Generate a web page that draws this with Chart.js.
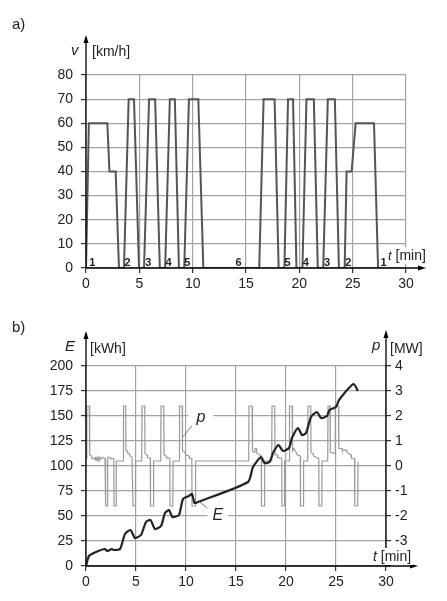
<!DOCTYPE html>
<html>
<head>
<meta charset="utf-8">
<script src="https://cdn.jsdelivr.net/npm/chart.js@4.4.1/dist/chart.umd.min.js"></script>
<style>
  body { margin: 0; background: #fff; }
  canvas { position: absolute; left: 0; }
  #speedChart { top: 0; }
  #energyChart { top: 290px; }
</style>
</head>
<body>
<canvas id="speedChart" width="447" height="290"></canvas>
<canvas id="energyChart" width="447" height="311"></canvas>
<script>
// a) speed profile, t [min] / v [km/h]
const tSpeed = [0, 0.27, 2.0, 2.2, 2.78, 3.09, 3.56, 4.0, 4.5, 4.97, 5.44, 5.91, 6.48, 6.92, 7.42, 7.86, 8.33, 8.71,
  9.21, 9.65, 10.53, 11.0, 16.24, 16.65, 17.68, 18.06, 18.6, 18.94, 19.41, 19.73, 20.29, 20.67, 21.36, 21.73,
  22.24, 22.67, 23.33, 23.71, 24.25, 24.43, 24.9, 25.28, 27.0, 27.38, 27.8];
const vSpeed = [0, 60, 60, 40, 40, 0, 0, 70, 70, 0, 0, 70, 70, 0, 0, 70, 70, 0,
  0, 70, 70, 0, 0, 70, 70, 0, 0, 70, 70, 0, 0, 70, 70, 0,
  0, 70, 70, 0, 0, 40, 40, 60, 60, 0, 0];

// station numbers shown along the time axis
const stopT = [0.6, 3.9, 5.85, 7.75, 9.5, 14.3, 18.9, 20.6, 22.6, 24.6, 27.9];
const stopLabels = ['1', '2', '3', '4', '5', '6', '5', '4', '3', '2', '1'];

// b) energy E [kWh]
const tEnergy = [0, 0.3, 1.0, 1.9, 2.1, 2.6, 2.75, 3.4, 3.9, 4.45, 4.9, 5.5, 6.0, 6.45, 6.9, 7.5, 7.9, 8.3, 8.65,
  9.3, 9.7, 10.3, 10.6, 10.85, 11.2, 16.2, 16.7, 17.5, 17.85, 18.35, 18.75, 19.25, 19.7, 20.3, 20.6, 21.2,
  21.6, 22.0, 22.5, 23.1, 23.5, 24.1, 24.35, 25.0, 25.3, 26.75, 27.2];
const eEnergy = [0, 10, 14, 17, 15, 17, 16, 17, 32, 36, 28, 31, 44, 46, 37, 40, 53, 56, 49,
  51, 67, 70, 72, 63, 64, 84, 99, 109, 103, 104, 114, 121, 115, 118, 128, 138,
  131, 133, 149, 154, 148, 150, 156, 159, 166, 182, 175];

// b) power p [MW]
const tPower = [0.05, 0.08, 0.33, 0.37, 0.55, 0.6, 0.8, 0.9, 1.0, 1.1, 1.2, 1.3, 1.4, 1.5, 1.7, 1.9, 1.95, 1.97, 2.15, 2.17,
  2.4, 2.45, 2.78, 2.8, 3.0, 3.03, 3.72, 3.75, 3.97, 4.0, 4.15, 4.2, 4.35, 4.4, 4.6, 4.68, 4.7, 4.92, 4.95,
  5.57, 5.6, 5.87, 5.9, 6.1, 6.15, 6.43, 6.45, 6.73, 6.76, 7.47, 7.5, 7.77, 7.8, 8.0, 8.05, 8.38, 8.4, 8.68, 8.71,
  9.32, 9.35, 9.62, 9.65, 9.9, 9.95, 10.3, 10.35, 10.58, 10.6, 10.93, 10.96, 16.27, 16.3, 16.62, 16.65, 16.85, 16.9,
  17.05, 17.1, 17.4, 17.53, 17.55, 17.83, 17.86, 18.57, 18.6, 18.87, 18.9, 19.1, 19.15, 19.58, 19.6, 19.83, 19.86,
  20.32, 20.35, 20.62, 20.65, 20.8, 21.0, 21.1, 21.43, 21.45, 21.73, 21.76, 22.17, 22.2, 22.47, 22.5, 22.7, 22.75,
  23.0, 23.28, 23.3, 23.58, 23.61, 24.17, 24.2, 24.4, 24.43, 24.9, 24.93, 25.25, 25.28, 25.6, 25.65, 25.9, 26.1,
  26.2, 26.5, 26.55, 26.85, 26.88, 27.17, 27.2];
const pPower = [0.3, 2.4, 2.4, 0.45, 0.4, 0.3, 0.32, 0.25, 0.35, 0.22, 0.35, 0.2, 0.35, 0.28, 0.35, 0.3, 0.3, -1.6, -1.6, 0.35,
  0.35, 0.3, 0.3, -1.6, -1.6, 0.2, 0.2, 2.4, 2.4, 0.6, 0.6, 0.5, 0.5, 0.4, 0.35, 0.35, -1.6, -1.6, 0.2,
  0.2, 2.4, 2.4, 0.5, 0.45, 0.35, 0.3, -1.6, -1.6, 0.2, 0.2, 2.4, 2.4, 0.45, 0.4, 0.35, 0.3, -1.6, -1.6, 0.2,
  0.2, 2.4, 2.4, 0.6, 0.55, 0.45, 0.4, 0.3, 0.3, -1.6, -1.6, 0.2, 0.2, 2.4, 2.4, 0.6, 0.55, 0.7,
  0.7, 0.5, 0.45, 0.4, -1.6, -1.6, 0.2, 0.2, 2.4, 2.4, 0.45, 0.45, 0.35, 0.3, -1.6, -1.6, 0.2,
  0.2, 2.4, 2.4, 0.6, 0.7, 0.55, 0.45, 0.4, -1.6, -1.6, 0.2, 0.2, 2.4, 2.4, 0.55, 0.5, 0.4,
  0.35, 0.3, -1.6, -1.6, 0.2, 0.2, 2.4, 2.4, 0.55, 0.5, 2.4, 2.4, 0.7, 0.7, 0.62, 0.65, 0.6,
  0.5, 0.45, 0.3, 0.3, -1.6, -1.6, 0.17];

const FONT = '"Liberation Sans", Arial, sans-serif';
const GRID = '#a3a3a3';

function pts(xs, ys) {
  return xs.map((x, i) => ({ x: x, y: ys[i] }));
}

function axisUp(ctx, x, yBottom, yTop) {
  ctx.beginPath();
  ctx.moveTo(x, yBottom);
  ctx.lineTo(x, yTop + 4);
  ctx.stroke();
  ctx.beginPath();
  ctx.moveTo(x, yTop);
  ctx.lineTo(x - 2.5, yTop + 8);
  ctx.lineTo(x + 2.5, yTop + 8);
  ctx.closePath();
  ctx.fill();
}

function axisRight(ctx, y, xLeft, xRight) {
  ctx.beginPath();
  ctx.moveTo(xLeft, y);
  ctx.lineTo(xRight - 4, y);
  ctx.stroke();
  ctx.beginPath();
  ctx.moveTo(xRight, y);
  ctx.lineTo(xRight - 8, y - 2.5);
  ctx.lineTo(xRight - 8, y + 2.5);
  ctx.closePath();
  ctx.fill();
}

// parts: [[text, font], ...] drawn one after another from x on baseline y
function text(ctx, parts, x, y, bg) {
  let w = 0;
  parts.forEach(p => { ctx.font = p[1]; w += ctx.measureText(p[0]).width; });
  if (bg) {
    ctx.fillStyle = '#fff';
    ctx.fillRect(x - bg, y - 13, w + 2 * bg, 17);
  }
  ctx.fillStyle = '#222';
  ctx.textAlign = 'left';
  ctx.textBaseline = 'alphabetic';
  parts.forEach(p => {
    ctx.font = p[1];
    ctx.fillText(p[0], x, y);
    x += ctx.measureText(p[0]).width;
  });
}

function xScale(fit) {
  return {
    type: 'linear', min: 0, max: 30,
    ticks: { stepSize: 5, color: '#222', font: { family: FONT, size: 14 }, padding: 3, maxRotation: 0 },
    grid: { color: GRID, lineWidth: 1.2, tickColor: '#333', tickLength: 5 },
    border: { display: false },
    afterFit: s => { s.height = fit; }
  };
}

function yScale(min, max, step, pos, fit) {
  return {
    type: 'linear', min: min, max: max, position: pos,
    ticks: { stepSize: step, color: '#222', font: { family: FONT, size: 14 }, padding: 8 },
    grid: { color: GRID, lineWidth: 1.2, tickColor: '#333', tickLength: 5 },
    border: { display: false },
    afterFit: s => { s.width = fit; }
  };
}

const speedDeco = {
  id: 'speedDeco',
  afterDraw(chart) {
    const ctx = chart.ctx, ca = chart.chartArea;
    const xs = chart.scales.x, ys = chart.scales.y;
    ctx.save();
    ctx.strokeStyle = '#000';
    ctx.fillStyle = '#000';
    ctx.lineWidth = 1.3;
    axisUp(ctx, ca.left, ca.bottom, 35);
    axisRight(ctx, ca.bottom, ca.left, 426);
    text(ctx, [['a)', '15px ' + FONT]], 12, 29);
    text(ctx, [['v', 'italic 15px ' + FONT]], 71, 55);
    text(ctx, [['[km/h]', '14px ' + FONT]], 92, 56);
    text(ctx, [['t', 'italic 13px ' + FONT], [' [min]', '14px ' + FONT]], 388, 260, 2);
    ctx.font = 'bold 11px ' + FONT;
    ctx.fillStyle = '#222';
    ctx.textAlign = 'center';
    stopT.forEach((t, i) => {
      ctx.fillText(stopLabels[i], xs.getPixelForValue(t), ys.getPixelForValue(0) - 2);
    });
    ctx.restore();
  }
};

const energyDeco = {
  id: 'energyDeco',
  afterDraw(chart) {
    const ctx = chart.ctx, ca = chart.chartArea;
    const xs = chart.scales.x, ys = chart.scales.y;
    ctx.save();
    ctx.strokeStyle = '#000';
    ctx.fillStyle = '#000';
    ctx.lineWidth = 1.3;
    axisUp(ctx, ca.left, ca.bottom, 41);
    axisUp(ctx, ca.right, ca.bottom, 40);
    axisRight(ctx, ca.bottom, ca.left, 418);
    text(ctx, [['b)', '15px ' + FONT]], 12, 42);
    text(ctx, [['E', 'italic 15px ' + FONT]], 65, 61);
    text(ctx, [['[kWh]', '14px ' + FONT]], 90, 63);
    text(ctx, [['p', 'italic 15px ' + FONT]], 372, 60);
    text(ctx, [['[MW]', '14px ' + FONT]], 390, 63);
    text(ctx, [['t', 'italic 14px ' + FONT], [' [min]', '14px ' + FONT]], 373, 271, 2);

    // curve labels with leader lines
    ctx.strokeStyle = '#777';
    ctx.lineWidth = 1;
    ctx.beginPath();
    ctx.moveTo(xs.getPixelForValue(9.68), ys.getPixelForValue(129.3));
    ctx.lineTo(xs.getPixelForValue(10.62), ys.getPixelForValue(140.3));
    ctx.moveTo(xs.getPixelForValue(11.35), ys.getPixelForValue(64.3));
    ctx.lineTo(xs.getPixelForValue(12.3), ys.getPixelForValue(56.5));
    ctx.stroke();
    text(ctx, [['p', 'italic 16px ' + FONT]], xs.getPixelForValue(11.05), ys.getPixelForValue(144), 8);
    text(ctx, [['E', 'italic 16px ' + FONT]], xs.getPixelForValue(12.65), ys.getPixelForValue(46.5), 5);
    ctx.restore();
  }
};

new Chart(document.getElementById('speedChart'), {
  type: 'line',
  data: {
    datasets: [{
      data: pts(tSpeed, vSpeed),
      borderColor: '#555',
      borderWidth: 2,
      pointRadius: 0,
      tension: 0
    }]
  },
  options: {
    responsive: false,
    animation: false,
    devicePixelRatio: 1,
    layout: { padding: { top: 75, right: 41, left: 0, bottom: 0 } },
    scales: {
      x: xScale(22),
      y: yScale(0, 80, 10, 'left', 86)
    },
    plugins: { legend: { display: false }, tooltip: { enabled: false } }
  },
  plugins: [speedDeco]
});

const y2 = yScale(-4, 4, 1, 'right', 40);
y2.grid.drawOnChartArea = false;
y2.ticks.padding = 4;
y2.ticks.callback = v => (v === -4 ? '' : v);

new Chart(document.getElementById('energyChart'), {
  type: 'line',
  data: {
    datasets: [{
      data: pts(tEnergy, eEnergy),
      yAxisID: 'y',
      borderColor: '#222',
      borderWidth: 2.2,
      pointRadius: 0,
      tension: 0.2
    }, {
      data: pts(tPower, pPower),
      yAxisID: 'y2',
      borderColor: '#9a9a9a',
      borderWidth: 1.2,
      pointRadius: 0,
      tension: 0
    }]
  },
  options: {
    responsive: false,
    animation: false,
    devicePixelRatio: 1,
    layout: { padding: { top: 76, right: 21, left: 0, bottom: 0 } },
    scales: {
      x: xScale(35),
      y: yScale(0, 200, 25, 'left', 86),
      y2: y2
    },
    plugins: { legend: { display: false }, tooltip: { enabled: false } }
  },
  plugins: [energyDeco]
});
</script>
</body>
</html>
